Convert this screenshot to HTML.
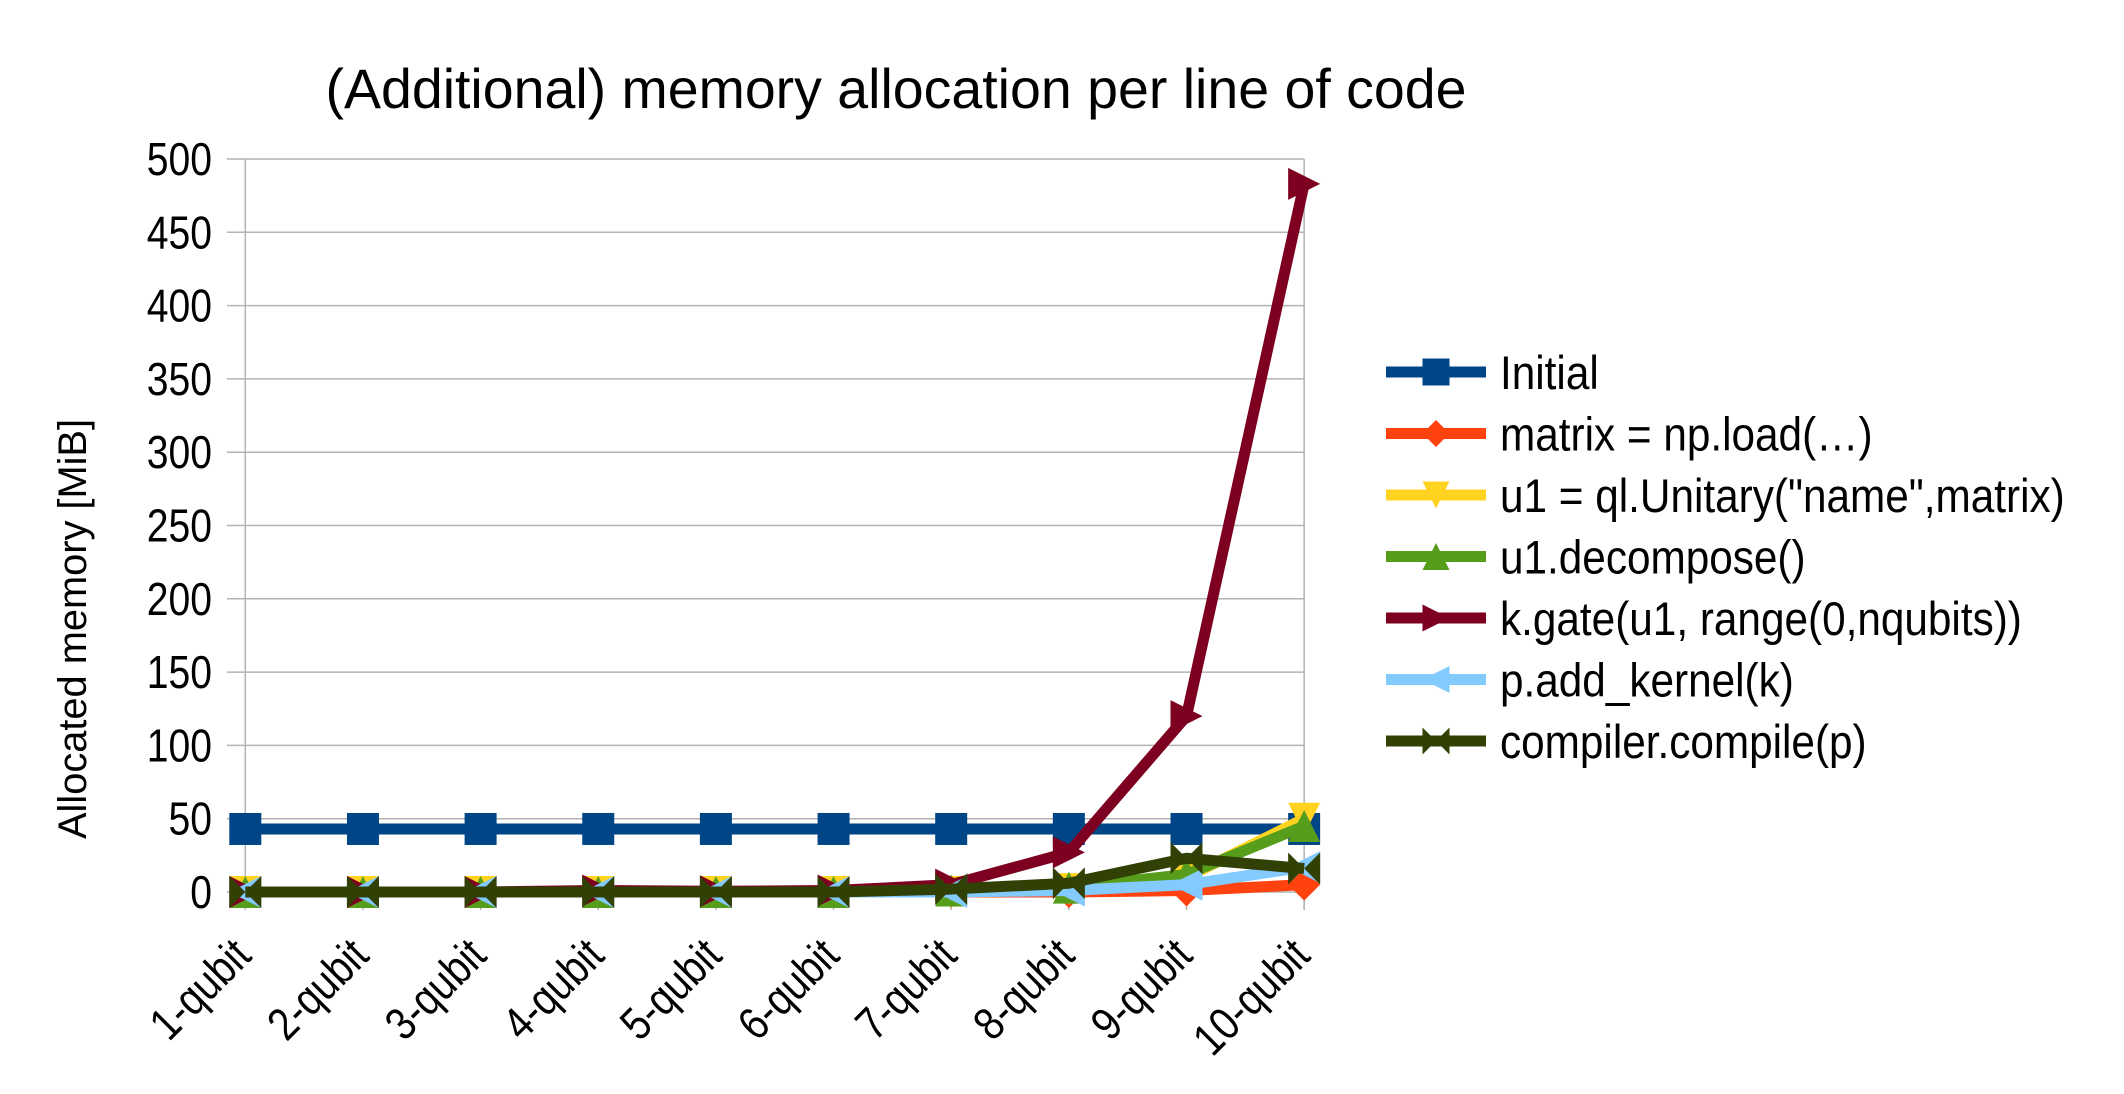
<!DOCTYPE html>
<html><head><meta charset="utf-8"><style>
html,body{margin:0;padding:0;background:#fff;}
svg{display:block;font-family:"Liberation Sans",sans-serif;}
</style></head><body>
<svg id="c" width="2124" height="1094" xmlns="http://www.w3.org/2000/svg"></svg>
<script>
const s=document.getElementById('c');
let h='';
const X0=245.3,DX=117.65,Y0=892,K=733/500;
const X=i=>X0+i*DX, Y=v=>Y0-v*K;
h+='<rect width="2124" height="1094" fill="#fff"/>';
for(let v=0;v<=500;v+=50){const y=Y(v);h+=`<line x1="227" x2="${X(9)}" y1="${y}" y2="${y}" stroke="#b3b3b3" stroke-width="1.5"/>`;
h+=`<text transform="translate(212,${y+16}) scale(0.85,1)" font-size="46" text-anchor="end">${v}</text>`;}
h+=`<line x1="${X0}" x2="${X0}" y1="${Y(500)}" y2="${Y0+18}" stroke="#b3b3b3" stroke-width="1.5"/>`;
h+=`<line x1="${X(9)}" x2="${X(9)}" y1="${Y(500)}" y2="${Y0+18}" stroke="#b3b3b3" stroke-width="1.5"/>`;
for(let i=0;i<10;i++){const x=X(i);h+=`<line x1="${x}" x2="${x}" y1="${Y0}" y2="${Y0+18}" stroke="#b3b3b3" stroke-width="1.5"/>`;
h+=`<text transform="translate(${x+8},${958}) rotate(-45) scale(0.85,1)" font-size="46" text-anchor="end">${i+1}-qubit</text>`;}
h+=`<text x="896" y="108" font-size="56" text-anchor="middle" textLength="1141" lengthAdjust="spacingAndGlyphs">(Additional) memory allocation per line of code</text>`;
h+=`<text transform="translate(86,629) rotate(-90)" font-size="40" text-anchor="middle" textLength="420" lengthAdjust="spacingAndGlyphs">Allocated memory [MiB]</text>`;
function mk(t,x,y,c,r){r=r||16;
 if(t=='sq')return `<rect x="${x-r}" y="${y-r}" width="${2*r}" height="${2*r}" fill="${c}"/>`;
 if(t=='di')return `<polygon points="${x},${y-r} ${x+r},${y} ${x},${y+r} ${x-r},${y}" fill="${c}"/>`;
 if(t=='dn')return `<polygon points="${x-r},${y-r} ${x+r},${y-r} ${x},${y+r}" fill="${c}"/>`;
 if(t=='up')return `<polygon points="${x-r},${y+r} ${x+r},${y+r} ${x},${y-r}" fill="${c}"/>`;
 if(t=='rt')return `<polygon points="${x-r},${y-r} ${x-r},${y+r} ${x+r},${y}" fill="${c}"/>`;
 if(t=='lt')return `<polygon points="${x+r},${y-r} ${x+r},${y+r} ${x-r},${y}" fill="${c}"/>`;
 if(t=='bt')return `<polygon points="${x-r},${y-r} ${x},${y} ${x+r},${y-r} ${x+r},${y+r} ${x},${y} ${x-r},${y+r}" fill="${c}"/>`;
}
const S=[
 ['Initial','#004586','sq',[43,43,43,43,43,43,43,43,43,43]],
 ['matrix = np.load(…)','#ff420e','di',[0,0,0,0,0,0,0,0,1,5]],
 ['u1 = ql.Unitary("name",matrix)','#ffd320','dn',[0,0,0,0,0,0,0,2,10,50]],
 ['u1.decompose()','#579d1c','up',[0,0,0,0,0,0,1,3,12,45]],
 ['k.gate(u1, range(0,nqubits))','#7e0021','rt',[0,0,0,1,0.5,1,5,27,120,483]],
 ['p.add_kernel(k)','#83caff','lt',[0,0,0,0,0,0,0,1,5,17]],
 ['compiler.compile(p)','#314004','bt',[0,0,0,0,0,0,2,6,23,16]]];
S.forEach((d,k)=>{const pts=d[3].map((v,i)=>X(i)+','+Y(v)).join(' ');
 h+=`<polyline points="${pts}" fill="none" stroke="${d[1]}" stroke-width="11" stroke-linejoin="round"/>`;
 d[3].forEach((v,i)=>h+=mk(d[2],X(i),Y(v),d[1]));
 const ly=372+k*61.5;
 h+=`<line x1="1386" x2="1486" y1="${ly}" y2="${ly}" stroke="${d[1]}" stroke-width="11"/>`;
 h+=mk(d[2],1436,ly,d[1],13.5);
 h+=`<text transform="translate(1500,${ly+17}) scale(0.9,1)" font-size="47">${d[0].replace(/&/g,'&amp;')}</text>`;
});
s.innerHTML=h;
</script>
</body></html>
